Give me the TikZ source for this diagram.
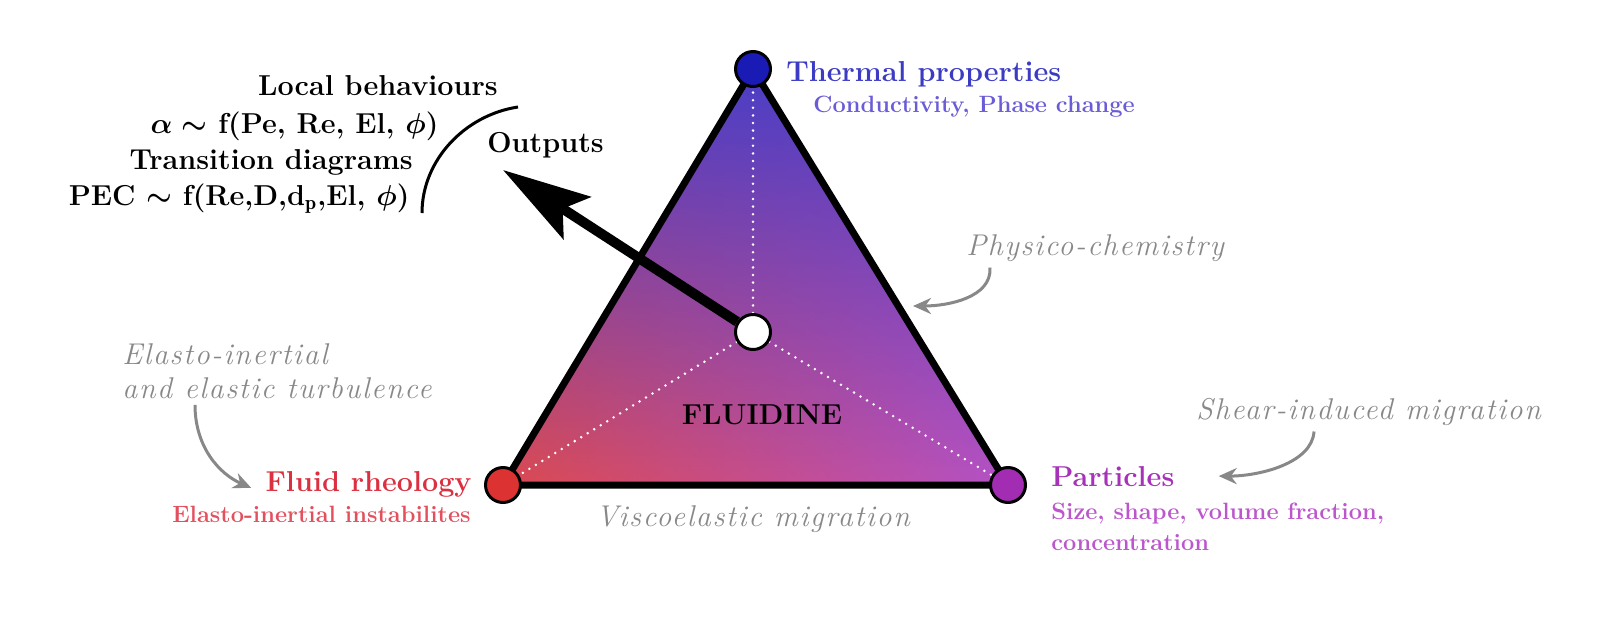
\documentclass[tikz,border=0pt]{standalone}
\usepackage{fontspec}
\usepackage{amsmath,amssymb}
\usetikzlibrary{positioning,arrows.meta,fadings,backgrounds}
\newfontfamily\notefont{Latin Modern Roman}[LetterSpace=5.5]
\definecolor{thermal}{HTML}{1A1AB4}
\definecolor{thermalT}{HTML}{3B3BC4}
\definecolor{thermalS}{HTML}{6A5CD6}
\definecolor{rheo}{HTML}{DC3232}
\definecolor{rheoT}{HTML}{DA3040}
\definecolor{rheoS}{HTML}{E2505E}
\definecolor{part}{HTML}{A22CB2}
\definecolor{partT}{HTML}{A632B8}
\definecolor{partS}{HTML}{BC56CC}
\definecolor{notegray}{HTML}{888888}
\definecolor{triBlue}{HTML}{4A3EC6}
\definecolor{triRed}{HTML}{DC4A50}
\definecolor{triPurple}{HTML}{B452C6}
\tikzfading[name=fadeblue,top color=transparent!0,bottom color=transparent!100]

\begin{document}
\begin{tikzpicture}[x=0.5pt,y=0.5pt,
  vertex/.style={circle,draw=black,line width=1.5pt,minimum size=17.5pt,inner sep=0pt},
  head/.style={font=\bfseries\fontsize{14.4}{17}\selectfont,inner sep=0pt},
  sub/.style={font=\bfseries\fontsize{11.8}{15.5}\selectfont,inner sep=0pt},
  outline/.style={font=\bfseries\boldmath\fontsize{14.4}{17}\selectfont,inner sep=0pt,anchor=base east},
  note/.style={font=\notefont\itshape\fontsize{15}{17}\selectfont,text=notegray,inner sep=0pt},
  spoke/.style={white,line width=1.4pt,line cap=round,dash pattern=on 0pt off 3.8pt},
  curly/.style={-{Stealth[length=9pt,width=8pt]},notegray,line width=1.5pt},
  outarrow/.style={-{Stealth[length=44pt,width=25pt,inset=8.5pt]},line width=5pt}]
\useasboundingbox (0,0) rectangle (1600,-622);
\node[vertex,fill=thermal] (th) at (753,-69) {};
\node[vertex,fill=rheo] (fr) at (503,-485) {};
\node[vertex,fill=part] (pa) at (1008,-485) {};
\node[vertex,fill=white] (core) at (753,-332) {};
\begin{scope}[on background layer]
\begin{scope}
\clip (th.center) -- (fr.center) -- (pa.center) -- cycle;
\shade[left color=triRed,right color=triPurple] (fr.center) rectangle (th.center -| pa.center);
\fill[triBlue,path fading=fadeblue] (fr.center) rectangle (th.center -| pa.center);
\end{scope}
\draw[spoke] (core) -- (th);
\draw[spoke] (core) -- (fr);
\draw[spoke] (core) -- (pa);
\draw[line width=3.5pt,line join=round] (th.center) -- (fr.center) -- (pa.center) -- cycle;
\end{scope}
% vertex labels
\node[head,text=thermalT,anchor=base west] (thname) at (786,-81) {Thermal properties};
\node[sub,text=thermalS,anchor=base west] (thsub) at (813,-112) {Conductivity, Phase change};
\node[head,text=rheoT,anchor=base east] (frname) at (472,-491) {Fluid rheology};
\node[sub,text=rheoS,anchor=base east] (frsub) at (471,-522) {Elasto-inertial instabilites};
\node[head,text=partT,anchor=base west] (paname) at (1051,-486) {Particles};
\node[sub,text=partS,anchor=north west,align=left] (pasub) at (1051,-503) {Size, shape, volume fraction,\\concentration};
\node[head,anchor=base] (fluidine) at (762,-424) {FLUIDINE};
% outputs
\coordinate (outtip) at (503,-170);
\draw[outarrow] (core) -- (outtip);
\node[head,anchor=base west] (outlbl) at (487,-152) {Outputs};
\node[outline] (loc) at (498,-95) {Local behaviours};
\node[outline] (alpha) at (439,-133) {$\alpha\sim$ f(Pe, Re, El, $\phi$)};
\node[outline] (trans) at (413,-169) {Transition diagrams};
\node[outline] (pec) at (410,-205) {PEC $\sim$ f(Re,D,d$_{\mathrm{p}}$,El, $\phi$)};
\coordinate (arclow) at (422,-213);
\coordinate (archigh) at (518,-107);
\draw[line width=1.5pt] (arclow) .. controls (422,-160) and (465,-115) .. (archigh);
% couplings
\node[note,anchor=base west] (physnote) at (966,-255) {Physico-chemistry};
\node[note,anchor=north west,align=left] (elnote) at (122,-343) {Elasto-inertial\\and elastic turbulence};
\node[note,anchor=base west] (shearnote) at (1196,-419) {Shear-induced migration};
\node[note,anchor=base] (viscnote) at (753,-526) {Viscoelastic migration};
\coordinate (phystip) at (913,-306);
\draw[curly] ([xshift=12pt,yshift=-3pt]physnote.south west) .. controls +(2,-30) and +(35,0) .. (phystip);
\draw[curly] ([xshift=36.5pt,yshift=-3pt]elnote.south west) .. controls +(0,-42) and +(-32,14) .. ([xshift=-7pt,yshift=-2pt]frname.west);
\draw[curly] ([xshift=59pt,yshift=-3pt]shearnote.south west) .. controls +(-2,-32) and +(40,0) .. ([xshift=22pt]paname.east);
\end{tikzpicture}
\end{document}
